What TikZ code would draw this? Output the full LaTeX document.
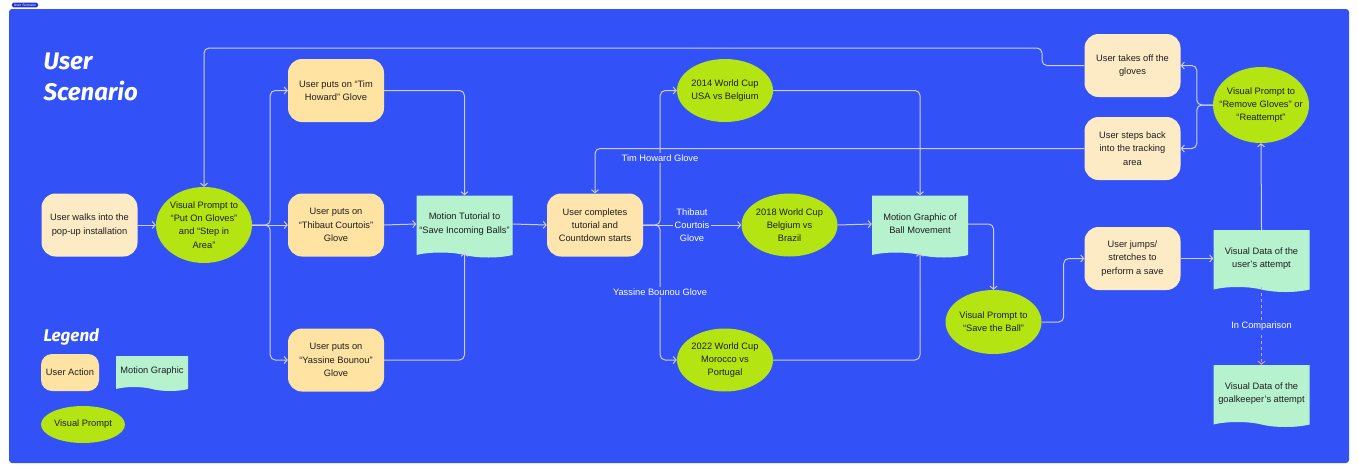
\documentclass[tikz,border=0pt]{standalone}
\usepackage{fontspec}
\setmainfont{Liberation Sans}
\newfontfamily\handfont{Fira Sans}
\usetikzlibrary{arrows.meta, shapes.geometric, shapes.symbols}
\definecolor{bgblue}{HTML}{3252F8}
\definecolor{tabblue}{HTML}{1F2FC8}
\definecolor{lime}{HTML}{B4E412}
\definecolor{mint}{HTML}{B7F2CF}
\definecolor{cream}{HTML}{FDEBC6}
\definecolor{goldcream}{HTML}{FFE3A3}
\definecolor{linegray}{HTML}{CDCDDD}
\definecolor{pinkdash}{HTML}{D9A0C6}
\definecolor{ink}{HTML}{1E1E1E}
\newcommand{\diagfont}{\fontsize{9.3}{13.3}\selectfont}
\tikzset{
  actbox/.style={
    fill=cream,
    rounded corners=14pt,
    align=center,
    font=\diagfont,
    text=ink,
    inner sep=2pt,
    minimum width=96pt,
    minimum height=63pt,
  },
  glovebox/.style={actbox, fill=goldcream},
  promptell/.style={
    ellipse,
    fill=lime,
    align=center,
    font=\diagfont,
    text=ink,
    inner xsep=-9pt,
    inner ysep=0pt,
    minimum width=96pt,
    minimum height=63pt,
  },
  motiondoc/.style={
    tape,
    tape bend top=none,
    tape bend bottom=out and in,
    tape bend height=5pt,
    fill=mint,
    align=center,
    font=\diagfont,
    text=ink,
    inner sep=2pt,
    minimum width=96pt,
    minimum height=62pt,
  },
  arr/.style={-{Straight Barb[length=3pt, width=7pt]}, line width=1pt, draw=linegray, rounded corners=5pt},
  darr/.style={arr, dashed, draw=pinkdash},
  glabel/.style={font=\diagfont, text=white, fill=bgblue, align=center, inner sep=2pt},
  headtxt/.style={font=\handfont\itshape, text=white, align=left},
}

\begin{document}
\begin{tikzpicture}[x=1pt, y=-1pt]
\useasboundingbox (0,0) rectangle (1358,472);

% --- Board ---
\fill[bgblue, rounded corners=3pt] (9,9) rectangle (1349,463);
\node[fill=tabblue, text=white, rounded corners=1.5pt, font=\fontsize{3.5}{4}\selectfont, inner xsep=2pt, inner ysep=1pt] (tab) at (25,5) {User Scenario};

\node[headtxt, font=\handfont\bfseries\itshape\fontsize{24}{31}\selectfont, anchor=west] (title) at (40,77) {User\\Scenario};
\node[headtxt, font=\handfont\bfseries\itshape\fontsize{17}{20}\selectfont, anchor=west] (legend) at (40,337) {Legend};

% --- Start ---
\node[actbox] (walk) at (89.5,225) {User walks into the\\pop-up installation};
\node[promptell, minimum height=76pt] (putgloves) at (204,225) {Visual Prompt to\\“Put On Gloves”\\and “Step in\\Area”};

% --- Glove choice ---
\node[glovebox] (tim) at (336,90.5) {User puts on “Tim\\Howard” Glove};
\node[glovebox] (thibaut) at (336,225) {User puts on\\“Thibaut Courtois”\\Glove};
\node[glovebox] (yassine) at (336,360) {User puts on\\“Yassine Bounou”\\Glove};

\node[motiondoc] (tutorial) at (464.5,224) {Motion Tutorial to\\“Save Incoming Balls”};
\node[actbox, fill=goldcream!70!cream] (countdown) at (595,225) {User completes\\tutorial and\\Countdown starts};

% --- World Cups ---
\node[promptell] (wc14) at (725,90.5) {2014 World Cup\\USA vs Belgium};
\node[promptell] (wc18) at (789.5,225) {2018 World Cup\\Belgium vs\\Brazil};
\node[promptell] (wc22) at (725,360) {2022 World Cup\\Morocco vs\\Portugal};

\node[motiondoc] (ballmove) at (920,224) {Motion Graphic of\\Ball Movement};
\node[promptell, minimum height=64pt] (saveball) at (993.5,322) {Visual Prompt to\\“Save the Ball”};

% --- Attempt ---
\node[actbox] (jumps) at (1132.5,258.5) {User jumps/\\stretches to\\perform a save};
\node[motiondoc] (userdata) at (1261.5,258.5) {Visual Data of the\\user’s attempt};
\node[motiondoc] (keeperdata) at (1261.5,393.5) {Visual Data of the\\goalkeeper’s attempt};

\node[promptell, minimum height=76pt] (removegloves) at (1261,105) {Visual Prompt to\\“Remove Gloves” or\\“Reattempt”};
\node[actbox] (takeoff) at (1132.5,65.5) {User takes off the\\gloves};
\node[actbox] (stepback) at (1132.5,148.5) {User steps back\\into the tracking\\area};

% --- Legend ---
\node[actbox, fill=goldcream, minimum width=58pt, minimum height=37pt, rounded corners=11pt] (legaction) at (70,372.5) {User Action};
\node[motiondoc, minimum width=72pt, minimum height=35pt, tape bend height=4pt] (legmotion) at (152,371.5) {Motion Graphic};
\node[promptell, minimum width=84pt, minimum height=37pt] (legprompt) at (83,424.5) {Visual Prompt};

% --- Arrows: start to gloves ---
\draw[arr] (walk.east) -- (putgloves.west);
\draw[arr] (putgloves.east) -- ++(18,0) |- (tim.west);
\draw[arr] (putgloves.east) -- (thibaut.west);
\draw[arr] (putgloves.east) -- ++(18,0) |- (yassine.west);

\draw[arr] (tim.east) -| (tutorial.north);
\draw[arr] (thibaut.east) -- (tutorial.west);
\draw[arr] (yassine.east) -| (tutorial.south);
\draw[arr] (tutorial.east) -- (countdown.west);

% --- Arrows: countdown to world cups ---
\draw[arr] (stepback.west) -| (countdown.north);
\draw[arr] (countdown.east) -- ++(17,0) |- (wc14.west);
\draw[arr] (countdown.east) -- (wc18.west);
\draw[arr] (countdown.east) -- ++(17,0) |- (wc22.west);

\node[glabel] (timlbl) at (660,158) {Tim Howard Glove};
\node[glabel] (thiblbl) at (692,225) {Thibaut\\Courtois\\Glove};
\node[glabel] (yaslbl) at (660,292) {Yassine Bounou Glove};

\draw[arr] (wc14.east) -| (ballmove.north);
\draw[arr] (wc18.east) -- (ballmove.west);
\draw[arr] (wc22.east) -| (ballmove.south);

% --- Arrows: attempt ---
\draw[arr] (ballmove.east) -| (saveball.north);
\draw[arr] (saveball.east) -- ++(22,0) |- (jumps.west);
\draw[arr] (jumps.east) -- (userdata.west);
\draw[arr] (userdata.north) -- (removegloves.south);
\draw[darr] (userdata.south) -- (keeperdata.north);
\node[glabel] (complbl) at (1261.5,326) {In Comparison};

\draw[arr] (removegloves.west) -- ++(-16,0) |- (takeoff.east);
\draw[arr] (removegloves.west) -- ++(-16,0) |- (stepback.east);

\coordinate (topjog) at (1042,48);
\draw[arr] (takeoff.west) -| (topjog) -| (putgloves.north);

\end{tikzpicture}
\end{document}
